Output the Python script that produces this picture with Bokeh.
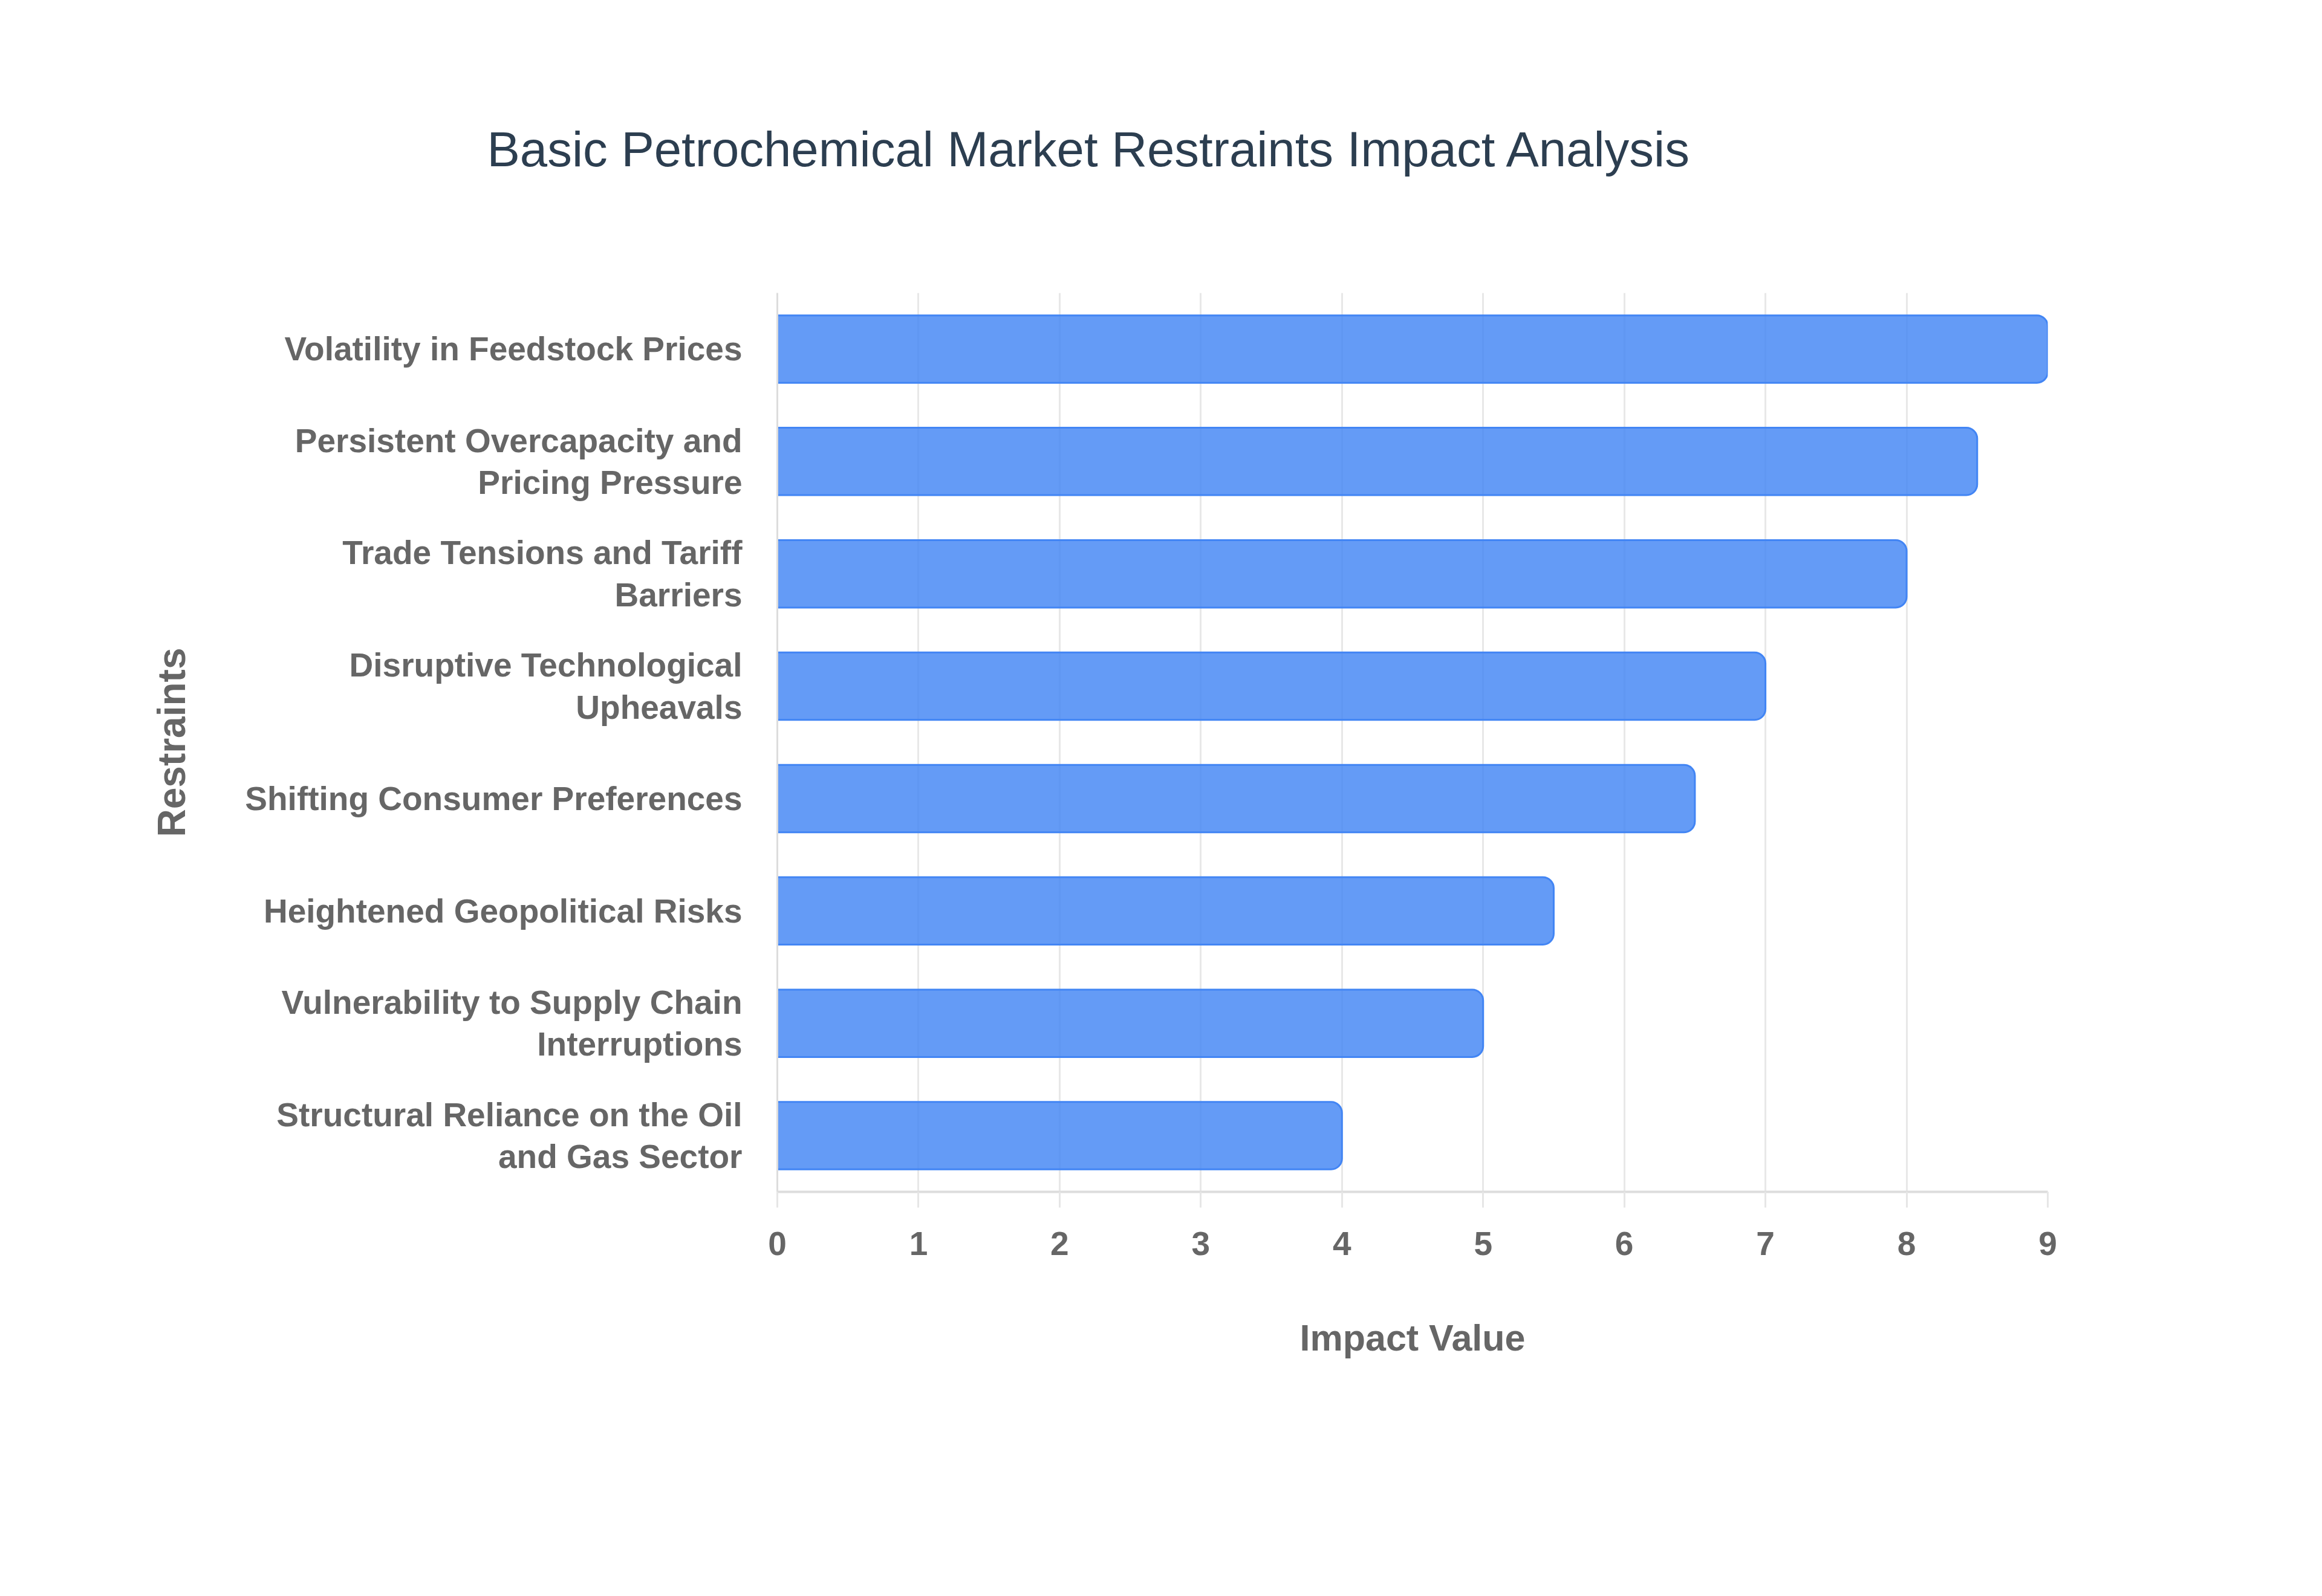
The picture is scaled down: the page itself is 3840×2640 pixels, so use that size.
from bokeh.plotting import figure
from bokeh.models import FactorRange, Range1d, FixedTicker, Title
from bokeh.embed import file_html
from bokeh.resources import INLINE

# ---- data (top to bottom as shown; line breaks as in the tick labels) ----
restraints = [
    "Volatility in Feedstock Prices",
    "Persistent Overcapacity and\nPricing Pressure",
    "Trade Tensions and Tariff\nBarriers",
    "Disruptive Technological\nUpheavals",
    "Shifting Consumer Preferences",
    "Heightened Geopolitical Risks",
    "Vulnerability to Supply Chain\nInterruptions",
    "Structural Reliance on the Oil\nand Gas Sector",
]
impact_values = [9, 8.5, 8, 7, 6.5, 5.5, 5, 4]
x_ticks = [0, 1, 2, 3, 4, 5, 6, 7, 8, 9]

title_text = "Basic Petrochemical Market Restraints Impact Analysis"
x_title = "Impact Value"
y_title = "Restraints"

factors = list(reversed(restraints))

W, H = 3824, 2624
p = figure(
    width=W, height=H,
    y_range=FactorRange(*factors, range_padding=0),
    x_range=Range1d(0, 9),
    output_backend="svg",
    toolbar_location=None,
    min_border_left=1285, min_border_right=438,
    min_border_top=484, min_border_bottom=653,
)
p.outline_line_color = None
p.background_fill_color = "white"
p.border_fill_color = "white"

# title
p.title = Title(text=title_text, align="left",
                offset=-480, standoff=386,
                text_font="Liberation Sans", text_font_size="81.5px",
                text_font_style="normal", text_color="#2c3e50")

p.hbar(y=restraints, right=impact_values, left=0, height=0.6,
       fill_color="#4285F4", fill_alpha=0.82,
       line_color="#4285F4", line_width=3,
       border_radius=(0, 18, 18, 0))

# x axis
xa = p.xaxis[0]
xa.ticker = FixedTicker(ticks=x_ticks)
xa.axis_label = x_title
xa.axis_label_text_font = "Liberation Sans"
xa.axis_label_text_font_style = "bold"
xa.axis_label_text_font_size = "61px"
xa.axis_label_text_color = "#666666"
xa.axis_label_standoff = 100
xa.major_label_text_font = "Liberation Sans"
xa.major_label_text_font_style = "bold"
xa.major_label_text_font_size = "55px"
xa.major_label_text_color = "#666666"
xa.major_label_standoff = 40
xa.major_tick_in = 0
xa.major_tick_out = 26
xa.major_tick_line_color = "#e6e6e6"
xa.major_tick_line_width = 3
xa.minor_tick_line_color = None
xa.axis_line_color = "#dddddd"
xa.axis_line_width = 4

# y axis
ya = p.yaxis[0]
ya.axis_label = y_title
ya.axis_label_text_font = "Liberation Sans"
ya.axis_label_text_font_style = "bold"
ya.axis_label_text_font_size = "64px"
ya.axis_label_text_color = "#666666"
ya.axis_label_standoff = 82
ya.major_label_text_font = "Liberation Sans"
ya.major_label_text_font_style = "bold"
ya.major_label_text_font_size = "55px"
ya.major_label_text_color = "#666666"
ya.major_label_text_line_height = 1.12
ya.major_label_standoff = 52
ya.major_tick_line_color = None
ya.minor_tick_line_color = None
ya.axis_line_color = "#dddddd"
ya.axis_line_width = 3

p.xgrid.grid_line_color = "#e8e8e8"
p.xgrid.grid_line_width = 3
p.ygrid.grid_line_color = None

open("out.html", "w").write(file_html(p, INLINE))
